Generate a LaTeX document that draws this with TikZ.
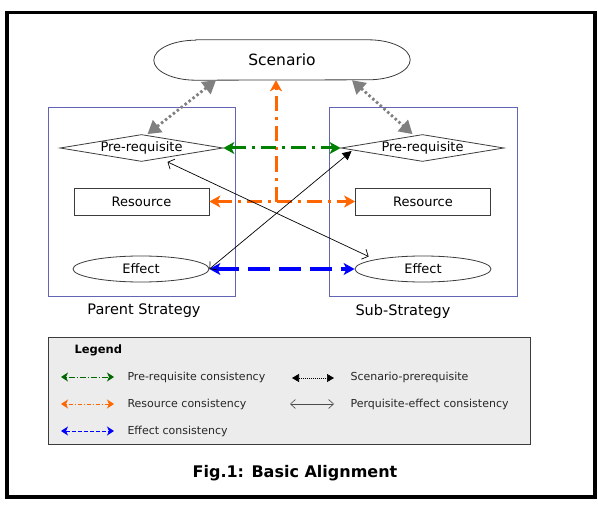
\documentclass[tikz,border=0pt]{standalone}
\usepackage{fontspec}
\setmainfont{DejaVu Sans}
\usetikzlibrary{shapes.geometric,shapes.misc,arrows.meta,calc}
\definecolor{framebl}{RGB}{100,100,180}
\definecolor{orng}{RGB}{255,102,0}
\definecolor{grn}{RGB}{0,128,0}
\definecolor{blu}{RGB}{0,0,255}
\definecolor{gry}{RGB}{128,128,128}
\definecolor{shapeline}{RGB}{60,60,60}
\definecolor{legfill}{RGB}{236,236,236}
\begin{document}
\begin{tikzpicture}[x=1pt,y=-1pt,
  fs/.style={font=\fontsize{#1}{#1}\selectfont},
  stadium/.style={rectangle,minimum width=256pt,minimum height=40pt,inner sep=0pt,fs=15.5},
  stratbox/.style={draw=framebl,line width=0.8pt,minimum width=187pt,minimum height=189pt,inner sep=0pt},
  diam/.style={diamond,draw=shapeline,line width=0.8pt,minimum width=163pt,minimum height=27pt,inner sep=0pt,label={[fs=13]center:Pre-requisite}},
  resbox/.style={draw=shapeline,line width=0.8pt,minimum width=135pt,minimum height=27pt,inner sep=0pt,fs=13},
  effell/.style={ellipse,draw=shapeline,line width=0.8pt,minimum width=136pt,minimum height=26pt,inner sep=0pt,fs=13},
  stratlab/.style={fs=14.5},
  legbox/.style={draw=shapeline,line width=0.8pt,fill=legfill,minimum width=482pt,minimum height=107pt,inner sep=0pt},
  legtext/.style={anchor=west,fs=11,text=black!85},
  bigtip/.style={{Stealth[length=11pt,width=12pt,inset=3pt]}-{Stealth[length=11pt,width=12pt,inset=3pt]}},
  grayarrow/.style={draw=gry,line width=2.8pt,dash pattern=on 2.5pt off 2.5pt,{Triangle[length=13pt,width=15pt]}-{Triangle[length=13pt,width=15pt]}},
  orangearrow/.style={draw=orng,line width=3pt,dash pattern=on 15pt off 6pt on 3pt off 6pt},
  greenarrow/.style={draw=grn,line width=3pt,dash pattern=on 15pt off 6pt on 3pt off 6pt,bigtip},
  bluearrow/.style={draw=blu,line width=4pt,dash pattern=on 22pt off 9pt,bigtip},
  thinline/.style={draw=black,line width=0.7pt}
]
\useasboundingbox (0,0) rectangle (598,511);
\fill[white] (0,0) rectangle (598,511);
\draw[line width=3.5pt] (7,12.5) rectangle (595,497);

% strategy frames
\node[stratbox] (pbox) at (141.5,201.5) {};
\node[stratbox,minimum width=188pt] (sbox) at (423,201.5) {};
\node[stratlab] (plab) at (144,311) {Parent Strategy};
\node[stratlab] (slab) at (403,311) {Sub-Strategy};

% scenario
\node[stadium] (scen) at (282,60) {Scenario};
\draw[shapeline,line width=0.8pt] ([xshift=42pt]scen.north west) -- ([xshift=-42pt]scen.north east)
  arc[start angle=90,end angle=-90,x radius=42pt,y radius=20pt]
  -- ([xshift=42pt]scen.south west)
  arc[start angle=270,end angle=90,x radius=42pt,y radius=20pt] -- cycle;

% parent strategy contents
\node[diam] (lpre) at (141.5,148) {};
\node[resbox] (lres) at (141.5,201.5) {Resource};
\node[effell] (lef) at (141,269) {Effect};

% sub-strategy contents
\node[diam] (rpre) at (422.5,148) {};
\node[resbox] (rres) at (423,201.5) {Resource};
\node[effell] (ref) at (423,269) {Effect};

% scenario-prerequisite (gray dotted)
\draw[grayarrow] ([xshift=-66pt]scen.south) -- ([xshift=6pt]lpre.north);
\draw[grayarrow] ([xshift=70pt]scen.south) -- ([xshift=-10pt]rpre.north);

% resource consistency (orange)
\draw[orangearrow,bigtip] (lres.east) -- (rres.west);
\coordinate (oj) at ([xshift=-6pt]scen.south |- lres.east);
\draw[orangearrow,-{Stealth[length=11pt,width=12pt,inset=3pt]}] (oj) -- ([xshift=-6pt]scen.south);

% prerequisite consistency (green)
\draw[greenarrow] (lpre.east) -- (rpre.west);

% effect consistency (blue)
\draw[bluearrow] (lef.east) -- (ref.west);

% prerequisite-effect consistency (thin black)
\draw[thinline,{Straight Barb[length=5pt,width=11pt,line width=0.7pt]}-{Triangle[length=9pt,width=9pt]}] (lef.east) -- ([xshift=11pt,yshift=-3pt]rpre.west);
\draw[thinline,{Straight Barb[length=5pt,width=11pt,line width=0.7pt]}-{Straight Barb[length=5pt,width=11pt,line width=0.7pt]}] ([xshift=26pt,yshift=0pt]lpre.south) -- ([xshift=-6pt,yshift=3pt]ref.north west);

% legend
\node[legbox] (leg) at (289,390.5) {};
\node[anchor=west,font=\bfseries\fontsize{11.5}{11.5}\selectfont] (legtitle) at (71,350) {Legend};

\coordinate (g1) at (61,377); \coordinate (g2) at (114,377);
\coordinate (o1) at (61,404); \coordinate (o2) at (114,404);
\coordinate (b1) at (61,431); \coordinate (b2) at (114,431);
\coordinate (k1) at (292,378); \coordinate (k2) at (334,378);
\coordinate (w1) at (290,404); \coordinate (w2) at (334,404);

\draw[draw=grn!80!black,line width=1pt,dash pattern=on 1pt off 2pt on 6pt off 2pt,{Stealth[length=7pt,width=9pt,inset=2pt]}-{Stealth[length=7pt,width=9pt,inset=2pt]}] (g1) -- (g2);
\draw[draw=orng,line width=1pt,dash pattern=on 1pt off 2pt on 4pt off 2pt,{Stealth[length=7pt,width=9pt,inset=2pt]}-{Stealth[length=7pt,width=9pt,inset=2pt]}] (o1) -- (o2);
\draw[draw=blu,line width=1pt,dash pattern=on 4pt off 2pt,{Stealth[length=7pt,width=9pt,inset=2pt]}-{Stealth[length=7pt,width=9pt,inset=2pt]}] (b1) -- (b2);
\draw[draw=black,line width=0.6pt,dash pattern=on 1pt off 1pt,{Triangle[length=7pt,width=8pt]}-{Triangle[length=7pt,width=8pt]}] (k1) -- (k2);
\draw[draw=black!70,line width=0.8pt,{Straight Barb[length=5pt,width=9pt,line width=0.6pt]}-{Straight Barb[length=5pt,width=9pt,line width=0.6pt]}] (w1) -- (w2);

\node[legtext] (t1) at (124,377) {Pre-requisite consistency};
\node[legtext] (t2) at (124,404) {Resource consistency};
\node[legtext] (t3) at (124,431) {Effect consistency};
\node[legtext] (t4) at (347,377) {Scenario-prerequisite};
\node[legtext] (t5) at (347,404) {Perquisite-effect consistency};

% caption
\node[font=\bfseries\fontsize{16}{16}\selectfont] (cap) at (295,473) {Fig.1: Basic Alignment};
\end{tikzpicture}
\end{document}
